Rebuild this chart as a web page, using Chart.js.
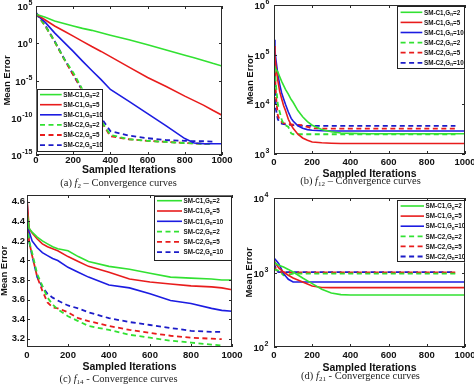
<!DOCTYPE html>
<html>
<head>
<meta charset="utf-8">
<script src="https://cdn.jsdelivr.net/npm/chart.js@4.4.1/dist/chart.umd.min.js"></script>
<style>
html, body { margin: 0; padding: 0; background: #fff; }
body { width: 474px; height: 387px; position: relative; overflow: hidden; }
.pane { position: absolute; }
.cap { position: absolute; width: 237px; text-align: center; font: 10.5px "Liberation Serif", serif; color: #222; line-height: 12px; white-space: nowrap; }
.cap sub { font-size: 7px; vertical-align: -2px; line-height: 0; }
</style>
</head>
<body>
<div class="pane" style="left:0;top:0"><canvas id="chartA" width="237" height="178"></canvas></div>
<div class="pane" style="left:237px;top:0"><canvas id="chartB" width="237" height="180"></canvas></div>
<div class="pane" style="left:0;top:190px"><canvas id="chartC" width="244" height="184"></canvas></div>
<div class="pane" style="left:237px;top:190px"><canvas id="chartD" width="237" height="184"></canvas></div>
<div class="cap" style="left:0;top:177px">(a) <i>f</i><sub>2</sub> – Convergence curves</div>
<div class="cap" style="left:242px;top:175px">(b) <i>f</i><sub>12</sub> – Convergence curves</div>
<div class="cap" style="left:0;top:373px">(c) <i>f</i><sub>14</sub> - Convergence curves</div>
<div class="cap" style="left:242px;top:370px">(d) <i>f</i><sub>21</sub> - Convergence curves</div>
<script>
// series order: SM-C1 Gn=2,5,10 (solid) then SM-C2 Gn=2,5,10 (dashed)
const legendLabels = [
  ['SM-C1,G', 'n', '=2'], ['SM-C1,G', 'n', '=5'], ['SM-C1,G', 'n', '=10'],
  ['SM-C2,G', 'n', '=2'], ['SM-C2,G', 'n', '=5'], ['SM-C2,G', 'n', '=10']
];
const xTicks = [0, 200, 400, 600, 800, 1000];

// (a) f2
const itA = [0, 50, 100, 150, 200, 250, 300, 350, 400, 500, 600, 700, 800, 850, 900, 950, 1000];
const a_c1_g2 = [8e3, 3e3, 1e3, 450, 210, 100, 54, 25, 12, 3, 0.63, 0.126, 0.025, 0.011, 5e-3, 2e-3, 8.7e-4];
const a_c1_g5 = [8e3, 1.3e3, 210, 45, 9, 1.8, 0.36, 0.08, 0.016, 6.3e-4, 2.5e-5, 1.6e-6, 8e-8, 2e-8, 5e-9, 1e-9, 2.2e-10];
const a_c1_g10 = [8e3, 630, 25, 1.4, 0.08, 4e-3, 2.2e-4, 1.3e-5, 6.3e-7, 1.6e-8, 3.5e-10, 8e-12, 1.6e-13, 4e-14, 3.2e-14, 3.2e-14, 3.2e-14];
const a_c2_g2 = [1e4, 210, 1.8, 9e-3, 1.2e-4, 6e-7, 3.2e-9, 4e-11, 5e-13, 1.3e-13, 8e-14, 5.6e-14, 4e-14, 3.5e-14, 3.2e-14, 3.2e-14, null];
const a_c2_g5 = [1e4, 200, 1.6, 8e-3, 6e-5, 4.5e-7, 3e-9, 3.5e-11, 3.2e-13, 1.3e-13, 8e-14, 5.6e-14, 4e-14, 3.5e-14, 3.2e-14, 3.2e-14, null];
const a_c2_g10 = [1.3e4, 250, 2, 0.01, 6e-5, 4e-7, 4e-9, 1e-10, 1.6e-12, 4e-13, 1.8e-13, 1e-13, 8e-14, 7e-14, 7e-14, 6.3e-14, null];
const yTicksA = [1e-15, 1e-10, 1e-5, 1, 1e5];

// (b) f12
const itB = [0, 5, 10, 20, 30, 40, 50, 60, 75, 90, 100, 125, 150, 175, 200, 250, 300, 350, 400, 500, 600, 700, 800, 900, 950, 1000];
const b_c1_g2 = [6e4, 5.5e4, 5e4, 4.5e4, 3.6e4, 2.9e4, 2.4e4, 2e4, 1.6e4, 1.25e4, 1.1e4, 7.5e3, 5.6e3, 4.5e3, 3.8e3, 3.1e3, 2.8e3, 2.65e3, 2.6e3, 2.55e3, 2.55e3, 2.55e3, 2.55e3, 2.55e3, 2.55e3, 2.55e3];
const b_c1_g5 = [1.5e5, 9e4, 6e4, 3e4, 1.8e4, 1.3e4, 9.5e3, 7.5e3, 5e3, 3.8e3, 3.3e3, 2.5e3, 2.1e3, 1.9e3, 1.75e3, 1.68e3, 1.65e3, 1.63e3, 1.63e3, 1.63e3, 1.63e3, 1.63e3, 1.63e3, 1.63e3, 1.63e3, 1.63e3];
const b_c1_g10 = [2e5, 1.2e5, 8e4, 4e4, 2.5e4, 1.7e4, 1.3e4, 1e4, 7e3, 5.2e3, 4.6e3, 3.7e3, 3.3e3, 3.1e3, 3e3, 2.95e3, 2.9e3, 2.9e3, 2.9e3, 2.9e3, 2.9e3, 2.9e3, 2.9e3, 2.9e3, 2.9e3, 2.9e3];
const b_c2_g2 = [8e4, 4e4, 2.5e4, 1e4, 7e3, 5e3, 4e3, 3.8e3, 3.5e3, 2.6e3, 2.5e3, 2.5e3, 2.5e3, 2.5e3, 2.5e3, 2.5e3, 2.5e3, 2.5e3, 2.5e3, 2.5e3, 2.5e3, 2.5e3, 2.5e3, 2.5e3, 2.5e3, null];
const b_c2_g5 = [1.5e5, 5e4, 1.5e4, 6e3, 4.8e3, 4.4e3, 4.2e3, 4.1e3, 4e3, 3.95e3, 3.9e3, 3.85e3, 3.8e3, 3.5e3, 3.3e3, 3.25e3, 3.25e3, 3.25e3, 3.25e3, 3.25e3, 3.25e3, 3.25e3, 3.25e3, 3.25e3, 3.25e3, null];
const b_c2_g10 = [2e5, 3e4, 8e3, 5e3, 4.3e3, 4.1e3, 4e3, 3.95e3, 3.9e3, 3.85e3, 3.8e3, 3.75e3, 3.7e3, 3.7e3, 3.7e3, 3.7e3, 3.7e3, 3.7e3, 3.7e3, 3.7e3, 3.7e3, 3.7e3, 3.7e3, 3.7e3, 3.7e3, null];
const yTicksB = [1e3, 1e4, 1e5, 1e6];

// (c) f14
const itC = [0, 10, 25, 50, 75, 100, 125, 150, 200, 250, 300, 400, 500, 600, 700, 800, 900, 950, 1000];
const c_c1_g2 = [4.50, 4.33, 4.29, 4.24, 4.20, 4.17, 4.14, 4.12, 4.10, 4.04, 3.99, 3.94, 3.91, 3.87, 3.83, 3.82, 3.81, 3.80, 3.80];
const c_c1_g5 = [4.65, 4.33, 4.28, 4.22, 4.17, 4.14, 4.12, 4.10, 4.04, 3.99, 3.94, 3.88, 3.81, 3.78, 3.76, 3.74, 3.73, 3.72, 3.70];
const c_c1_g10 = [4.60, 4.30, 4.20, 4.13, 4.08, 4.05, 4.02, 4.00, 3.93, 3.88, 3.83, 3.75, 3.72, 3.66, 3.59, 3.56, 3.51, 3.49, 3.48];
const c_c2_g2 = [4.45, 4.20, 4.08, 3.86, 3.74, 3.62, 3.55, 3.50, 3.43, 3.38, 3.33, 3.29, 3.24, 3.21, 3.18, 3.16, 3.14, 3.13, null];
const c_c2_g5 = [4.50, 4.20, 4.05, 3.83, 3.69, 3.57, 3.52, 3.51, 3.47, 3.41, 3.38, 3.33, 3.29, 3.26, 3.23, 3.21, 3.20, 3.195, null];
const c_c2_g10 = [4.45, 4.20, 4.05, 3.83, 3.73, 3.66, 3.62, 3.59, 3.54, 3.51, 3.47, 3.41, 3.37, 3.34, 3.31, 3.28, 3.27, 3.27, null];
const yTicksC = [3.2, 3.4, 3.6, 3.8, 4.0, 4.2, 4.4, 4.6];

// (d) f21
const itD = [0, 15, 25, 50, 75, 100, 150, 200, 250, 300, 350, 400, 500, 600, 700, 800, 900, 950, 1000];
const d_c1_g2 = [1390, 1290, 1250, 1185, 1100, 1015, 845, 710, 595, 530, 505, 500, 500, 500, 500, 500, 500, 500, 500];
const d_c1_g5 = [1455, 1250, 1150, 1015, 920, 845, 745, 660, 630, 626, 626, 626, 626, 626, 626, 626, 626, 626, 626];
const d_c1_g10 = [1565, 1420, 1315, 965, 810, 745, 745, 745, 745, 745, 745, 745, 745, 745, 745, 745, 745, 745, 745];
const d_c2_g2 = [1100, 1080, 1055, 915, 935, 965, 965, 965, 965, 965, 965, 965, 965, 965, 965, 965, 965, 965, null];
const d_c2_g5 = [1185, 1060, 1015, 1000, 1000, 1000, 1000, 1000, 1000, 1000, 1000, 1000, 1000, 1000, 1000, 1000, 1000, 1000, null];
const d_c2_g10 = [1315, 1035, 1010, 1010, 1010, 1010, 1010, 1010, 1010, 1010, 1010, 1010, 1010, 1010, 1010, 1010, 1010, 1010, null];
const yTicksD = [1e2, 1e3, 1e4];

Chart.defaults.font.family = '"Liberation Sans", Arial, sans-serif';
Chart.defaults.color = '#111';

const COLORS = ['rgb(50,225,50)', 'rgb(232,28,28)', 'rgb(28,28,225)', 'rgb(50,225,50)', 'rgb(232,28,28)', 'rgb(28,28,200)'];
const FONT_TICK = 'bold 9.5px "Liberation Sans", Arial, sans-serif';
const FONT_EXP = 'bold 7px "Liberation Sans", Arial, sans-serif';

function buildDatasets(its, series) {
  return series.map((vals, i) => ({
    label: legendLabels[i].join(''),
    data: its.map((x, k) => ({ x, y: vals[k] })),
    borderColor: COLORS[i],
    borderWidth: i < 3 ? 1.6 : 1.8,
    borderDash: i < 3 ? [] : [5, 3.5],
    pointRadius: 0,
    tension: 0,
    fill: false
  }));
}

// matlab-ish box, inward ticks, superscript log labels and the boxed legend
const matlabLook = {
  id: 'matlabLook',
  afterDatasetsDraw(chart, args, o) {
    const { ctx, chartArea: a } = chart;
    const x = chart.scales.x, y = chart.scales.y;
    ctx.save();
    ctx.strokeStyle = '#2a2a2a';
    ctx.lineWidth = 1;
    ctx.setLineDash([]);
    ctx.strokeRect(a.left + 0.5, a.top + 0.5, a.right - a.left - 1, a.bottom - a.top - 1);
    ctx.beginPath();
    x.ticks.forEach(t => {
      const px = Math.round(x.getPixelForValue(t.value)) + 0.5;
      ctx.moveTo(px, a.bottom); ctx.lineTo(px, a.bottom - 3);
      ctx.moveTo(px, a.top); ctx.lineTo(px, a.top + 3);
    });
    y.ticks.forEach(t => {
      const py = Math.round(y.getPixelForValue(t.value)) + 0.5;
      ctx.moveTo(a.left, py); ctx.lineTo(a.left + 3, py);
      ctx.moveTo(a.right, py); ctx.lineTo(a.right - 3, py);
    });
    ctx.stroke();

    if (o.logLabels) {
      ctx.fillStyle = '#111';
      ctx.textBaseline = 'middle';
      ctx.textAlign = 'left';
      y.ticks.forEach(t => {
        const py = y.getPixelForValue(t.value);
        const e = String(Math.round(Math.log10(t.value)));
        ctx.font = FONT_TICK;
        const w1 = ctx.measureText('10').width;
        ctx.font = FONT_EXP;
        const w2 = ctx.measureText(e).width;
        const x0 = a.left - o.logGap - w1 - w2;
        ctx.font = FONT_TICK;
        ctx.fillText('10', x0, py + 1.5);
        ctx.font = FONT_EXP;
        ctx.fillText(e, x0 + w1 + 0.3, py - 2.5);
      });
    }

    const L = o.legend;
    const bx = L.anchor === 'right' ? a.right - L.w : a.left + L.dx;
    const by = L.anchor === 'bottom' ? a.bottom - L.dy - L.h : a.top + L.dy;
    ctx.fillStyle = '#fff';
    ctx.fillRect(bx, by, L.w, L.h);
    ctx.strokeStyle = '#222';
    ctx.strokeRect(Math.round(bx) + 0.5, Math.round(by) + 0.5, Math.round(L.w) - 1, Math.round(L.h) - 1);
    chart.data.datasets.forEach((ds, i) => {
      const ry = by + L.row0 + i * L.gap;
      ctx.strokeStyle = ds.borderColor;
      ctx.lineWidth = ds.borderWidth;
      ctx.setLineDash(ds.borderDash);
      ctx.beginPath();
      ctx.moveTo(bx + L.l0, ry); ctx.lineTo(bx + L.l1, ry);
      ctx.stroke();
      ctx.setLineDash([]);
      const [m, s, t] = legendLabels[i];
      ctx.fillStyle = '#111';
      ctx.textBaseline = 'middle';
      ctx.textAlign = 'left';
      let tx = bx + L.tx;
      ctx.font = 'bold 6.3px "Liberation Sans", Arial, sans-serif';
      ctx.fillText(m, tx, ry + 0.5);
      tx += ctx.measureText(m).width;
      ctx.font = 'bold 4.5px "Liberation Sans", Arial, sans-serif';
      ctx.fillText(s, tx, ry + 2.3);
      tx += ctx.measureText(s).width;
      ctx.font = 'bold 6.3px "Liberation Sans", Arial, sans-serif';
      ctx.fillText(t, tx, ry + 0.5);
    });
    ctx.restore();
  }
};

function makeChart(id, p) {
  const ctx = document.getElementById(id).getContext('2d');
  const isLog = p.yType === 'logarithmic';
  return new Chart(ctx, {
    type: 'line',
    data: { datasets: buildDatasets(p.its, p.series) },
    options: {
      responsive: false,
      animation: false,
      events: [],
      layout: { padding: { left: 0, top: p.top, right: p.right, bottom: 0 } },
      plugins: {
        legend: { display: false },
        tooltip: { enabled: false },
        matlabLook: { logLabels: isLog, logGap: p.logGap, legend: p.legend }
      },
      scales: {
        x: {
          type: 'linear', min: 0, max: 1000,
          afterBuildTicks: s => { s.ticks = xTicks.map(v => ({ value: v })); },
          afterFit: s => { s.height = p.xHeight; s.paddingLeft = 0; s.paddingRight = 0; },
          grid: { display: false, drawTicks: false },
          border: { display: false },
          ticks: { font: { size: 9.5, weight: 'bold' }, padding: p.xPad, maxRotation: 0, autoSkip: false, callback: v => String(v) },
          title: { display: true, text: 'Sampled Iterations', font: { size: 10.5, weight: 'bold', lineHeight: 1 }, padding: { top: 0, bottom: p.xTitlePad } }
        },
        y: {
          type: p.yType, min: p.yMin, max: p.yMax,
          afterBuildTicks: s => { s.ticks = p.yTicks.map(v => ({ value: v })); },
          afterFit: s => { s.width = p.yWidth; s.paddingTop = 0; s.paddingBottom = 0; },
          grid: { display: false, drawTicks: false },
          border: { display: false },
          ticks: {
            font: { size: 9.5, weight: 'bold' }, padding: 2,
            callback: v => isLog ? '' : String(Number(v.toFixed(1)))
          },
          title: { display: true, text: 'Mean Error', font: { size: 9.5, weight: 'bold', lineHeight: 1 }, padding: { top: p.yTitlePad, bottom: 0 } }
        }
      }
    },
    plugins: [matlabLook]
  });
}

makeChart('chartA', {
  its: itA, series: [a_c1_g2, a_c1_g5, a_c1_g10, a_c2_g2, a_c2_g5, a_c2_g10],
  yType: 'logarithmic', yMin: 1e-15, yMax: 1e5, yTicks: yTicksA,
  top: 6, right: 15, xHeight: 23, yWidth: 36, xPad: 0, xTitlePad: 2.75, yTitlePad: 2.5, logGap: 4,
  legend: { anchor: 'bottom', dx: 0.7, dy: 3, w: 65.6, h: 63.4, row0: 6, gap: 10.1, l0: 3.3, l1: 25, tx: 26.6 }
});
makeChart('chartB', {
  its: itB, series: [b_c1_g2, b_c1_g5, b_c1_g10, b_c2_g2, b_c2_g5, b_c2_g10],
  yType: 'logarithmic', yMin: 1e3, yMax: 1e6, yTicks: yTicksB,
  top: 5, right: 9, xHeight: 26, yWidth: 37, xPad: 3, xTitlePad: 0.75, yTitlePad: 8.5, logGap: 5,
  legend: { anchor: 'right', dx: 0, dy: 1, w: 67.7, h: 63.3, row0: 6.3, gap: 10.1, l0: 3.3, l1: 25, tx: 26.7 }
});
makeChart('chartC', {
  its: itC, series: [c_c1_g2, c_c1_g5, c_c1_g10, c_c2_g2, c_c2_g5, c_c2_g10],
  yType: 'linear', yMin: 3.115, yMax: 4.67, yTicks: yTicksC,
  top: 5, right: 12, xHeight: 27, yWidth: 27, xPad: 3, xTitlePad: 1.45, yTitlePad: 0, logGap: 4,
  legend: { anchor: 'right', dx: 0, dy: 0.7, w: 77.7, h: 65, row0: 5, gap: 10.3, l0: 2.7, l1: 27.7, tx: 29.3 }
});
makeChart('chartD', {
  its: itD, series: [d_c1_g2, d_c1_g5, d_c1_g10, d_c2_g2, d_c2_g5, d_c2_g10],
  yType: 'logarithmic', yMin: 1e2, yMax: 1e4, yTicks: yTicksD,
  top: 8, right: 9, xHeight: 27, yWidth: 37, xPad: 3, xTitlePad: 0.75, yTitlePad: 8, logGap: 6,
  legend: { anchor: 'right', dx: 0, dy: 2, w: 68.4, h: 62.3, row0: 6, gap: 10.1, l0: 4, l1: 27.4, tx: 29 }
});
</script>
</body>
</html>
